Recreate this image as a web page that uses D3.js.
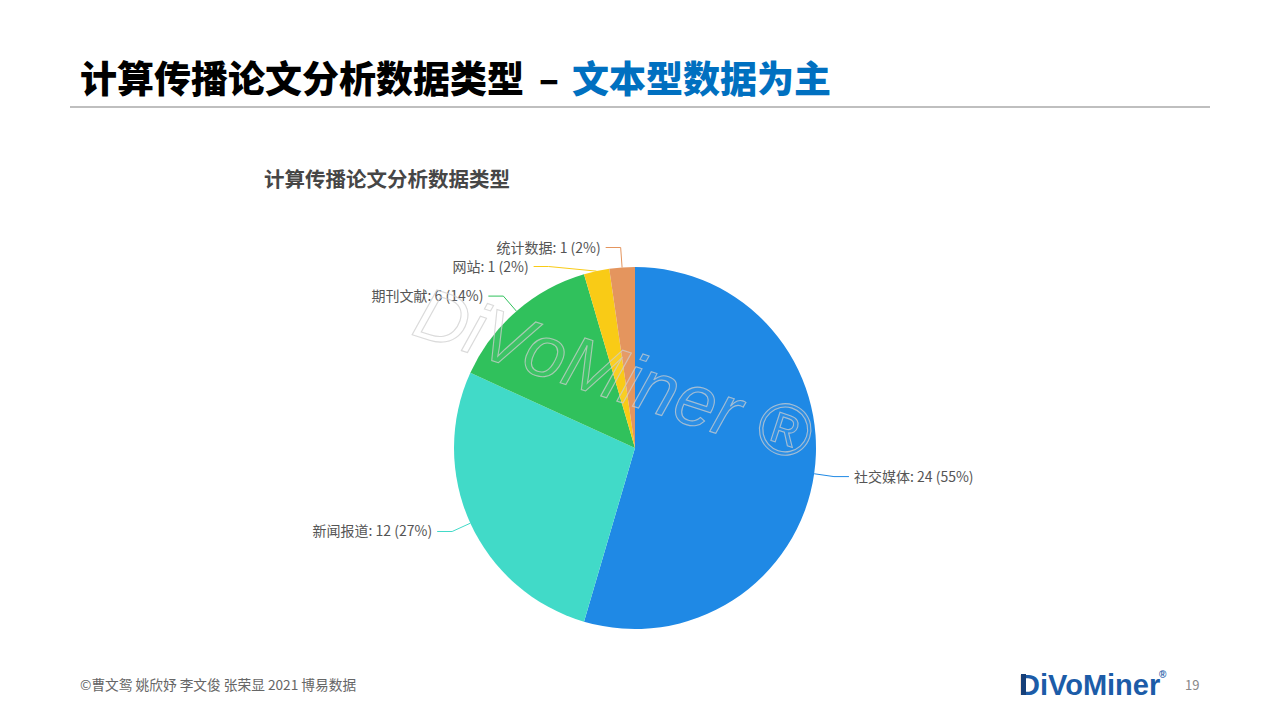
<!DOCTYPE html>
<html><head><meta charset="utf-8">
<script src="https://cdn.jsdelivr.net/npm/d3@7"></script>
<style>
html,body{margin:0;padding:0;background:#fff;}
svg{display:block;font-family:"Noto Sans CJK SC","Noto Sans",sans-serif;}
</style></head>
<body>
<svg id="chart" width="1280" height="720"></svg>
<script>
const pageTitleMain = "计算传播论文分析数据类型";
const pageTitleDash = "–";
const pageTitleAccent = "文本型数据为主";
const chartTitle = "计算传播论文分析数据类型";
const categories = ["社交媒体", "新闻报道", "期刊文献", "网站", "统计数据"];
const values = [24, 12, 6, 1, 1];
const colors = ["#1f89e5", "#41dac8", "#30c15c", "#f9cb16", "#e4955e"];
const footerText = "©曹文鸳 姚欣妤 李文俊 张荣显 2021 博易数据";
const pageNumber = "19";

const svg = d3.select("#chart");

// page title
svg.append("text").attr("x", 80).attr("y", 77).attr("dominant-baseline", "central")
  .attr("font-size", 37).attr("font-weight", 900).attr("fill", "#000").text(pageTitleMain);
svg.append("text").attr("x", 549).attr("y", 77).attr("dominant-baseline", "central").attr("text-anchor", "middle")
  .attr("font-size", 37).attr("font-weight", 900).attr("fill", "#000").text(pageTitleDash);
svg.append("text").attr("x", 572).attr("y", 77).attr("dominant-baseline", "central")
  .attr("font-size", 37).attr("font-weight", 900).attr("fill", "#0070c0").text(pageTitleAccent);
svg.append("line").attr("x1", 70).attr("x2", 1210).attr("y1", 107).attr("y2", 107)
  .attr("stroke", "#bfbfbf").attr("stroke-width", 2);

// chart title
svg.append("text").attr("x", 264).attr("y", 178).attr("dominant-baseline", "central")
  .attr("font-size", 20.5).attr("font-weight", 700).attr("fill", "#464646").text(chartTitle);

// pie
const cx = 635, cy = 448, R = 181;
const total = d3.sum(values);
const data = categories.map((c, i) => ({name: c, value: values[i], color: colors[i]}));
const pie = d3.pie().value(d => d.value).sort(null);
const arcs = pie(data);
const arc = d3.arc().innerRadius(0).outerRadius(R);
const g = svg.append("g").attr("transform", `translate(${cx},${cy})`);
g.selectAll("path").data(arcs).join("path").attr("d", arc).attr("fill", d => d.data.color);

// labels with ECharts-like layout
const len1 = 20, len2 = 15, R1 = R + len1, lineH = 19;
const labels = arcs.map(a => {
  const m = (a.startAngle + a.endAngle) / 2;
  return {a, m, side: Math.sin(m) >= 0 ? 1 : -1,
    x0: R * Math.sin(m), y0: -R * Math.cos(m),
    y1: -R1 * Math.cos(m),
    text: `${a.data.name}: ${a.data.value} (${Math.round(a.data.value / total * 100)}%)`};
});
[1, -1].forEach(side => {
  const grp = labels.filter(l => l.side === side).sort((p, q) => p.y1 - q.y1);
  for (let i = 1; i < grp.length; i++) {
    if (grp[i].y1 - grp[i - 1].y1 < lineH) grp[i].y1 = grp[i - 1].y1 + lineH;
  }
});
labels.forEach(l => {
  const dy = l.y1;
  const dx = Math.abs(dy) < R1 ? Math.sqrt(R1 * R1 - dy * dy) : 0;
  l.x1 = l.side * dx;
  l.x2 = l.x1 + l.side * len2;
});
g.selectAll("polyline").data(labels).join("polyline")
  .attr("points", l => `${l.x0},${l.y0} ${l.x1},${l.y1} ${l.x2},${l.y1}`)
  .attr("fill", "none").attr("stroke", l => l.a.data.color).attr("stroke-width", 1);
g.selectAll("text.lbl").data(labels).join("text").attr("class", "lbl")
  .attr("x", l => l.x2 + l.side * 5).attr("y", l => l.y1 - 1)
  .attr("text-anchor", l => l.side > 0 ? "start" : "end")
  .attr("dominant-baseline", "central")
  .attr("font-size", 14).attr("fill", "#555").text(l => l.text);

// watermark
svg.append("text").attr("transform", "translate(410,334) rotate(18)")
  .attr("font-family", "'Liberation Sans', Arial, sans-serif").attr("font-style", "italic")
  .attr("font-size", 73).attr("fill", "rgba(255,255,255,0.06)")
  .attr("stroke", "rgba(205,205,205,0.75)").attr("stroke-width", 1.1)
  .text("DiVoMiner ®");

// footer
svg.append("text").attr("x", 80).attr("y", 684).attr("dominant-baseline", "central")
  .attr("font-size", 13.7).attr("fill", "#666").text(footerText);
svg.append("text").attr("x", 1185).attr("y", 684).attr("dominant-baseline", "central")
  .attr("font-size", 13).attr("fill", "#888").text(pageNumber);

// logo
const logo = svg.append("g").attr("transform", "translate(1019,695)");
logo.append("text").attr("font-family", "'Liberation Sans', Arial, sans-serif").attr("font-weight", 700)
  .attr("font-size", 29).attr("fill", "#1c5ca8").text("DiVoMiner");
logo.append("rect").attr("x", 2).attr("y", -21).attr("width", 5).attr("height", 21).attr("fill", "#163f78");
logo.append("text").attr("x", 140).attr("y", -17).attr("font-family", "'Liberation Sans', Arial, sans-serif")
  .attr("font-weight", 700).attr("font-size", 10).attr("fill", "#1c5ca8").text("®");
</script>
</body></html>
